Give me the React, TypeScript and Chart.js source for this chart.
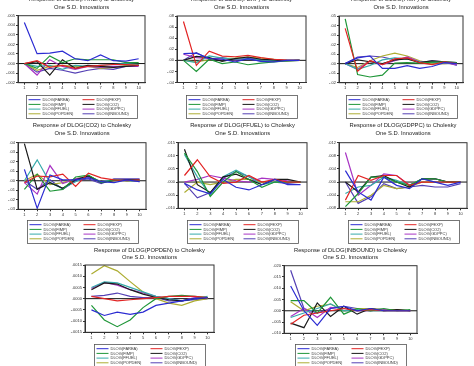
import React, { useEffect, useRef } from 'react';
import { Chart, registerables } from 'chart.js';
Chart.register(...registerables);

const periods = [1, 2, 3, 4, 5, 6, 7, 8, 9, 10];
const seriesNames = ['DLOG(FAREA)', 'DLOG(FEXP)', 'DLOG(FIMP)', 'DLOG(CO2)', 'DLOG(FFUEL)', 'DLOG(GDPPC)', 'DLOG(POPDEN)', 'DLOG(INBOUND)'];
const seriesColors = ['#2c2cd2', '#e22424', '#1f9638', '#1a1a1a', '#36aaaa', '#a834c4', '#adad32', '#5440b4'];

// Responses (rows = shock in legend order)
const ticksFAREA = [-0.002, -0.001, 0, 0.001, 0.002, 0.003, 0.004, 0.005];
const respFAREA = [
  [0.0043, 0.00103, 0.0011, 0.0013, 0.0005, 0.0003, 0.0009, 0.0003, 0.00025, 0.0005],
  [0, 0.0003, -0.0004, -0.0002, -0.0005, -0.0003, -0.0002, -0.0001, -0.0001, -0.0002],
  [0, -0.0005, 0.0008, 0.0001, 0.0005, 0.0004, 0.0004, 0.0004, 0.0001, 0.0001],
  [0, 0.0002, -0.0012, 0.0004, -0.0005, -0.0002, -0.0003, -0.0004, -0.0003, -0.0002],
  [0, -0.0003, -0.0002, -0.0006, -0.0002, -0.0003, -0.0002, -0.0001, 0, -0.0001],
  [0, -0.0012, 0.0004, -0.0003, -0.0006, -0.0003, -0.0004, -0.0003, -0.0003, -0.0003],
  [0, -0.0007, -0.0003, -0.0002, -0.0003, -0.0003, -0.0005, -0.0004, -0.0002, -0.0001],
  [0, -0.0009, -0.0005, -0.0007, -0.001, -0.0007, -0.0005, -0.0006, -0.0003, -0.0002],
];

const ticksFEXP = [-0.04, -0.02, 0, 0.02, 0.04, 0.06, 0.08];
const respFEXP = [
  [0.012, 0.013, 0.003, 0.002, -0.003, 0.003, -0.002, -0.003, 0, 0],
  [0.07, -0.009, 0.0166, 0.0077, 0.0065, 0.009, 0.005, 0.002, 0.0005, 0],
  [0, -0.02, 0.002, -0.006, -0.003, -0.008, -0.005, -0.003, -0.001, 0],
  [0, 0.007, 0.005, -0.002, 0.003, 0.006, 0.002, 0.001, -0.001, 0],
  [0, -0.004, 0.008, 0.004, 0.002, 0.003, 0.001, 0, 0, 0],
  [0.011, 0.005, 0.003, 0.003, 0.001, 0.004, 0.002, 0.001, 0, 0],
  [0, -0.003, 0.001, 0.003, 0.004, 0.006, 0.004, 0.002, 0, 0],
  [0, 0.014, 0.002, 0.005, 0.001, 0.002, -0.001, -0.002, 0, 0],
];

const ticksFIMP = [-0.02, -0.01, 0, 0.01, 0.02, 0.03, 0.04, 0.05];
const respFIMP = [
  [0, 0.006, 0.008, -0.005, -0.005, -0.002, -0.005, -0.003, 0.001, 0],
  [0.037, -0.008, 0.003, -0.001, 0.005, 0.006, 0.001, -0.001, 0.002, 0],
  [0.047, -0.0115, -0.014, -0.012, 0.0005, 0.001, 0.0005, 0.0015, 0.002, 0.001],
  [0, 0.004, 0.002, 0, 0.004, 0.005, 0.001, 0.003, 0.002, 0.001],
  [0, -0.006, -0.002, 0.004, 0.006, 0.005, 0.002, 0.001, 0.001, 0],
  [0, -0.006, 0.003, -0.001, 0.003, 0.007, 0.002, 0.002, 0.001, -0.001],
  [0, -0.004, 0.003, 0.008, 0.011, 0.008, 0.003, 0, 0, 0.001],
  [0, 0.007, 0.008, 0.007, 0.004, 0.006, 0.001, 0.003, 0.002, -0.002],
];

const ticksCO2 = [-0.03, -0.02, -0.01, 0, 0.01, 0.02, 0.03, 0.04];
const respCO2 = [
  [0.012, -0.029, 0.006, 0.001, 0.001, 0.003, -0.001, -0.002, 0.001, -0.001],
  [-0.002, 0.005, 0.004, 0.007, -0.006, 0.008, 0.003, 0.001, 0, 0.001],
  [-0.009, 0.007, -0.011, -0.009, 0.004, 0.006, -0.002, 0.001, 0, 0],
  [0.039, -0.009, -0.002, -0.008, 0.001, 0.005, -0.002, 0, 0.001, 0.001],
  [0, 0.022, -0.002, -0.008, -0.001, 0.005, -0.001, 0.001, 0, 0],
  [-0.002, -0.014, 0.016, -0.003, 0.002, 0.004, -0.001, 0.001, 0.001, -0.001],
  [0, 0.007, -0.004, -0.002, 0.002, 0.005, -0.001, 0, 0, 0],
  [0, -0.009, 0.001, -0.009, 0, 0.002, -0.003, 0.002, 0.002, 0.002],
];

const ticksFFUEL = [-0.01, -0.005, 0, 0.005, 0.01, 0.015];
const respFFUEL = [
  [-0.0005, -0.003, -0.0045, 0.001, -0.002, -0.003, -0.001, 0.001, -0.001, -0.001],
  [0.0025, 0.0085, 0.002, -0.0005, 0, 0.0025, 0, 0.001, 0, 0],
  [0.011, 0.004, -0.0055, 0, 0.004, 0.001, -0.002, 0, 0, 0],
  [0.0125, -0.001, -0.004, 0.002, 0.003, 0.001, -0.001, 0.001, 0.001, 0],
  [0.0105, 0.002, -0.005, 0.002, 0.0045, 0.002, -0.001, 0, 0, 0],
  [0, 0.001, 0.0025, 0.0015, 0.0005, 0, 0.0015, 0.001, 0.0005, 0],
  [-0.004, 0, -0.001, 0, 0.001, 0.001, 0, 0, 0, 0],
  [-0.0005, -0.006, -0.004, 0.0015, 0.004, 0.002, 0, 0, -0.0005, 0],
];

const ticksGDPPC = [-0.008, -0.004, 0, 0.004, 0.008, 0.012];
const respGDPPC = [
  [0.0035, -0.003, -0.0055, 0.0015, -0.001, -0.002, 0.001, 0, -0.001, 0],
  [-0.0055, 0.002, 0.0005, 0.002, 0.002, -0.001, 0, 0, 0, 0],
  [-0.0075, -0.0035, 0.0015, 0.0015, 0, -0.001, 0.001, 0.001, 0, 0],
  [0, -0.003, 0.0015, 0.002, 0, -0.0015, 0.001, 0.001, 0, 0],
  [-0.0035, -0.0015, -0.001, 0.0015, 0.0005, -0.001, 0.001, 0, 0, 0],
  [0.009, -0.004, -0.001, 0.0025, 0.002, -0.001, 0.001, 0.001, 0, 0],
  [-0.006, -0.006, -0.004, -0.001, -0.002, -0.0015, 0, 0, 0, 0],
  [0, -0.0065, -0.0045, -0.0005, -0.002, -0.0015, -0.001, -0.0015, -0.0015, -0.0005],
];

const ticksPOPDEN = [-0.0015, -0.001, -0.0005, 0, 0.0005, 0.001, 0.0015];
const respPOPDEN = [
  [-0.0005, -0.00075, -0.0006, -0.0007, -0.0006, -0.0003, -0.0002, -0.0001, 0, 0.00005],
  [0.0001, 0, -0.0001, -0.00005, 0, 0.00005, 0.0001, 0.0001, 0.0001, 0.00005],
  [-0.0003, -0.00095, -0.00125, -0.00095, -0.0004, 0, 0.0001, 0.00015, 0.0001, 0.00005],
  [0.0004, 0.0007, 0.00065, 0.0004, 0.0002, 0.00005, -0.00005, -0.0001, 0, 0.00005],
  [0.0005, 0.00075, 0.0007, 0.0005, 0.0003, 0.0001, 0, -0.0001, 0, 0.0001],
  [0.00045, 0.00072, 0.0006, 0.0004, 0.00025, 0.0001, 0, -0.0001, 0.00005, 0.00005],
  [0.0011, 0.00147, 0.00124, 0.00076, 0.0003, 0, -0.0002, -0.0003, -0.0001, 0],
  [0.0001, 0.00015, 0.00025, 0.0001, 0.00005, 0.00005, -0.0001, -0.0001, -0.00005, 0],
];

const ticksINBOUND = [-0.01, -0.005, 0, 0.005, 0.01, 0.015, 0.02];
const respINBOUND = [
  [0.011, 0, -0.0065, 0.001, 0.002, 0, 0.001, 0, 0, 0],
  [-0.006, -0.002, -0.001, 0, 0.001, 0, 0.0005, 0, 0, 0],
  [0.0045, 0.0045, -0.001, 0.006, -0.0015, 0.001, 0, 0.001, 0, 0.0005],
  [-0.0055, -0.0075, 0.0035, -0.0025, 0.002, -0.0015, 0.001, 0, 0.0005, 0],
  [-0.003, -0.001, 0.001, 0.003, 0, 0.0005, 0, 0, 0, 0],
  [-0.0025, 0.001, -0.003, 0.0015, 0.001, 0, 0, 0.0005, 0, 0],
  [0.004, 0, 0.002, 0.003, 0, 0.001, 0.001, 0.0005, 0.0005, 0],
  [0.018, 0.001, -0.001, 0.001, 0.002, 0.001, 0.001, 0.0005, 0.0005, 0],
];

const subtitle = 'One S.D. Innovations';
const FONT = '"Liberation Sans", Arial, sans-serif';

type PanelCfg = {
  title: string; resp: number[][]; ticks: number[]; dec: number;
  L: number; R: number; T: number; B: number; t1: number; t2: number; lg: number;
};

const panels: PanelCfg[] = [
  { title: 'Response of DLOG(FAREA) to Cholesky', resp: respFAREA, ticks: ticksFAREA, dec: 3, L: 18, R: 145, T: 15.7, B: 82.7, t1: -0.3, t2: 7.3, lg: 12 },
  { title: 'Response of DLOG(FEXP) to Cholesky', resp: respFEXP, ticks: ticksFEXP, dec: 2, L: 177, R: 306, T: 16, B: 82.5, t1: -0.3, t2: 7.3, lg: 12 },
  { title: 'Response of DLOG(FIMP) to Cholesky', resp: respFIMP, ticks: ticksFIMP, dec: 2, L: 339, R: 463, T: 16, B: 82.7, t1: -0.3, t2: 7.3, lg: 12 },
  { title: 'Response of DLOG(CO2) to Cholesky', resp: respCO2, ticks: ticksCO2, dec: 2, L: 18, R: 146, T: 142.7, B: 209.3, t1: 125.8, t2: 133.3, lg: 11 },
  { title: 'Response of DLOG(FFUEL) to Cholesky', resp: respFFUEL, ticks: ticksFFUEL, dec: 3, L: 178, R: 307, T: 142.7, B: 208.3, t1: 125.8, t2: 133.3, lg: 12 },
  { title: 'Response of DLOG(GDPPC) to Cholesky', resp: respGDPPC, ticks: ticksGDPPC, dec: 3, L: 339, R: 467, T: 142.7, B: 208.3, t1: 125.8, t2: 133.3, lg: 12 },
  { title: 'Response of DLOG(POPDEN) to Cholesky', resp: respPOPDEN, ticks: ticksPOPDEN, dec: 4, L: 85, R: 214, T: 265, B: 332.3, t1: 250.8, t2: 257.5, lg: 12 },
  { title: 'Response of DLOG(INBOUND) to Cholesky', resp: respINBOUND, ticks: ticksINBOUND, dec: 3, L: 284, R: 417, T: 265.7, B: 333.3, t1: 250.8, t2: 257.5, lg: 11 },
];

const fmt = (v: number, d: number) => {
  const s = Math.abs(v).toFixed(d).replace(/^0/, '');
  return (v < -1e-12 ? '-' : '') + s;
};

const HX = 9;

function Panel({ cfg }: { cfg: PanelCfg }) {
  const ref = useRef<HTMLCanvasElement | null>(null);
  const cx = Math.floor(cfg.L - 22);
  const cw = Math.ceil(cfg.R + 4) - cx;
  const cy = Math.floor(cfg.t1 - 5);
  const ch = Math.ceil(cfg.B + cfg.lg + 26) - cy;

  useEffect(() => {
    const canvas = ref.current;
    if (!canvas) return;
    const decorations = {
      id: 'decor',
      beforeDatasetsDraw(chart: any) {
        const { ctx, chartArea } = chart;
        const y0 = chart.scales.y.getPixelForValue(0);
        ctx.save();
        ctx.strokeStyle = '#111';
        ctx.lineWidth = 1;
        ctx.beginPath();
        ctx.moveTo(chartArea.left, y0);
        ctx.lineTo(chartArea.right, y0);
        ctx.stroke();
        ctx.restore();
      },
      afterDraw(chart: any) {
        const { ctx, chartArea } = chart;
        ctx.save();
        ctx.strokeStyle = '#333';
        ctx.lineWidth = 1;
        ctx.strokeRect(chartArea.left, chartArea.top, chartArea.right - chartArea.left, chartArea.bottom - chartArea.top);
        // titles
        const midX = (chartArea.left + chartArea.right) / 2;
        ctx.fillStyle = '#222';
        ctx.textAlign = 'center';
        ctx.textBaseline = 'middle';
        ctx.font = `5.8px ${FONT}`;
        ctx.fillText(cfg.title, midX, cfg.t1 - cy);
        ctx.fillText(subtitle, midX, cfg.t2 - cy);
        // legend
        const bw = 111;
        const bh = 23;
        const bx = Math.round(midX - bw / 2) + 0.5;
        const by = Math.round(chartArea.bottom + cfg.lg) + 0.5;
        ctx.strokeStyle = '#555';
        ctx.lineWidth = 0.8;
        ctx.strokeRect(bx, by, bw, bh);
        ctx.font = `4px ${FONT}`;
        ctx.textAlign = 'left';
        seriesNames.forEach((name, i) => {
          const col = i % 2;
          const row = Math.floor(i / 2);
          const x0 = bx + 2 + col * 54;
          const yy = by + 4.2 + row * 4.7;
          ctx.strokeStyle = seriesColors[i];
          ctx.lineWidth = 1;
          ctx.beginPath();
          ctx.moveTo(x0, yy);
          ctx.lineTo(x0 + 12, yy);
          ctx.stroke();
          ctx.fillStyle = '#333';
          ctx.fillText(name, x0 + 14, yy);
        });
        ctx.restore();
      },
    };

    const tickFont = { size: 4, family: FONT };
    const chart = new Chart(canvas, {
      type: 'line',
      data: {
        datasets: cfg.resp.map((vals, i) => ({
          label: seriesNames[i],
          data: vals.map((v, j) => ({ x: periods[j], y: v })),
          borderColor: seriesColors[i],
          backgroundColor: seriesColors[i],
          borderWidth: 1.2,
          pointRadius: 0,
          tension: 0,
          fill: false,
        })),
      },
      options: {
        animation: false,
        responsive: false,
        devicePixelRatio: 1,
        layout: { padding: { top: cfg.T - cy, bottom: cy + ch - cfg.B - HX, left: 0, right: cx + cw - cfg.R } },
        plugins: { legend: { display: false }, title: { display: false }, tooltip: { enabled: false } },
        scales: {
          x: {
            type: 'linear',
            min: 0.5,
            max: 10.5,
            afterBuildTicks: (s: any) => { s.ticks = periods.map((v) => ({ value: v })); },
            afterFit: (s: any) => { s.height = HX; },
            ticks: { font: tickFont, color: '#333', padding: 1, maxRotation: 0, autoSkip: false, callback: (v: any) => String(v) },
            grid: { display: true, drawOnChartArea: false, drawTicks: true, tickLength: 2, color: '#333' },
            border: { display: true, color: '#333', width: 1 },
          },
          y: {
            type: 'linear',
            min: cfg.ticks[0],
            max: cfg.ticks[cfg.ticks.length - 1],
            afterBuildTicks: (s: any) => { s.ticks = cfg.ticks.map((v) => ({ value: v })); },
            afterFit: (s: any) => { s.width = cfg.L - cx; },
            ticks: { font: tickFont, color: '#333', padding: 1, autoSkip: false, callback: (v: any) => fmt(Number(v), cfg.dec) },
            grid: { display: true, drawOnChartArea: false, drawTicks: true, tickLength: 2, color: '#333' },
            border: { display: true, color: '#333', width: 1 },
          },
        },
      },
      plugins: [decorations],
    } as any);
    return () => chart.destroy();
  }, []);

  return (
    <canvas
      ref={ref}
      width={cw}
      height={ch}
      style={{ position: 'absolute', left: cx, top: cy, width: cw, height: ch }}
    />
  );
}

export default function App() {
  return (
    <div style={{ position: 'fixed', left: 0, top: 0, width: 474, height: 366, overflow: 'hidden', background: '#fff' }}>
      {panels.map((p, i) => (
        <Panel key={i} cfg={p} />
      ))}
    </div>
  );
}
